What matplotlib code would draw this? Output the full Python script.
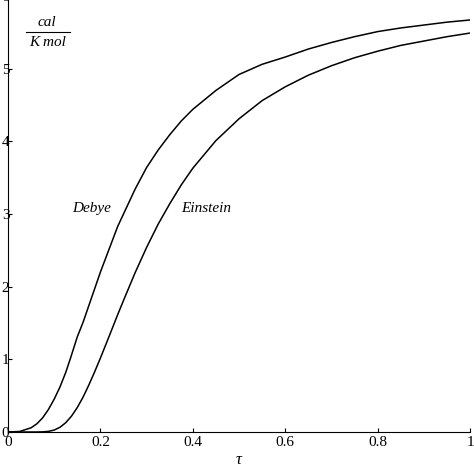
import matplotlib
matplotlib.use("Agg")
import matplotlib.pyplot as plt

tau = [0.0, 0.025, 0.05, 0.0625, 0.075, 0.0875, 0.1, 0.1125, 0.125, 0.1375, 0.15, 0.1625, 0.175, 0.1875,
       0.2, 0.2125, 0.225, 0.2375, 0.25, 0.275, 0.3, 0.325, 0.35, 0.375, 0.4, 0.45, 0.5, 0.55, 0.6, 0.65,
       0.7, 0.75, 0.8, 0.85, 0.9, 0.95, 1.0]
debye = [0.0, 0.007, 0.058, 0.113, 0.195, 0.31, 0.452, 0.62, 0.82, 1.06, 1.31, 1.51, 1.74, 1.97,
         2.20, 2.41, 2.62, 2.83, 3.00, 3.34, 3.64, 3.88, 4.09, 4.28, 4.44, 4.70, 4.92, 5.06, 5.16, 5.27,
         5.36, 5.44, 5.51, 5.56, 5.60, 5.64, 5.67]
einstein = [0.0, 0.0, 0.0, 0.0, 0.002, 0.0085, 0.027, 0.065, 0.128, 0.219, 0.337, 0.48, 0.647, 0.827,
            1.017, 1.215, 1.415, 1.616, 1.81, 2.19, 2.54, 2.86, 3.14, 3.40, 3.63, 4.01, 4.31, 4.56, 4.75, 4.91,
            5.04, 5.15, 5.24, 5.32, 5.38, 5.44, 5.49]

plt.rcParams['font.family'] = ['Liberation Serif']
fig = plt.figure(figsize=(4.74, 4.74), dpi=100)
ax = fig.add_axes([8/474, 42/474, 462/474, 436/474])
ax.plot(tau, debye, color='black', lw=1.1)
ax.plot(tau, einstein, color='black', lw=1.1)
ax.set_xlim(0, 1)
ax.set_ylim(0, 6)
ax.set_xticks([0, 0.2, 0.4, 0.6, 0.8, 1])
ax.set_xticklabels(['0', '0.2', '0.4', '0.6', '0.8', '1'])
ax.set_yticks([0, 1, 2, 3, 4, 5, 6])
for s in ['top', 'right']:
    ax.spines[s].set_visible(False)
ax.tick_params(direction='in', length=3, labelsize=11, pad=3)
ax.tick_params(axis='y', pad=-1)
ax.set_xlabel('τ', fontsize=12, style='italic', labelpad=2)
ax.text(0.18, 3.08, 'Debye', style='italic', fontsize=11, ha='center', va='center')
ax.text(0.43, 3.08, 'Einstein', style='italic', fontsize=11, ha='center', va='center')
ax.text(0.085, 5.55, 'cal', style='italic', fontsize=11, ha='center', va='bottom')
ax.plot([0.04, 0.135], [5.5, 5.5], color='black', lw=0.8)
ax.text(0.085, 5.45, 'K mol', style='italic', fontsize=11, ha='center', va='top')
fig.savefig('out.png', dpi=100)
